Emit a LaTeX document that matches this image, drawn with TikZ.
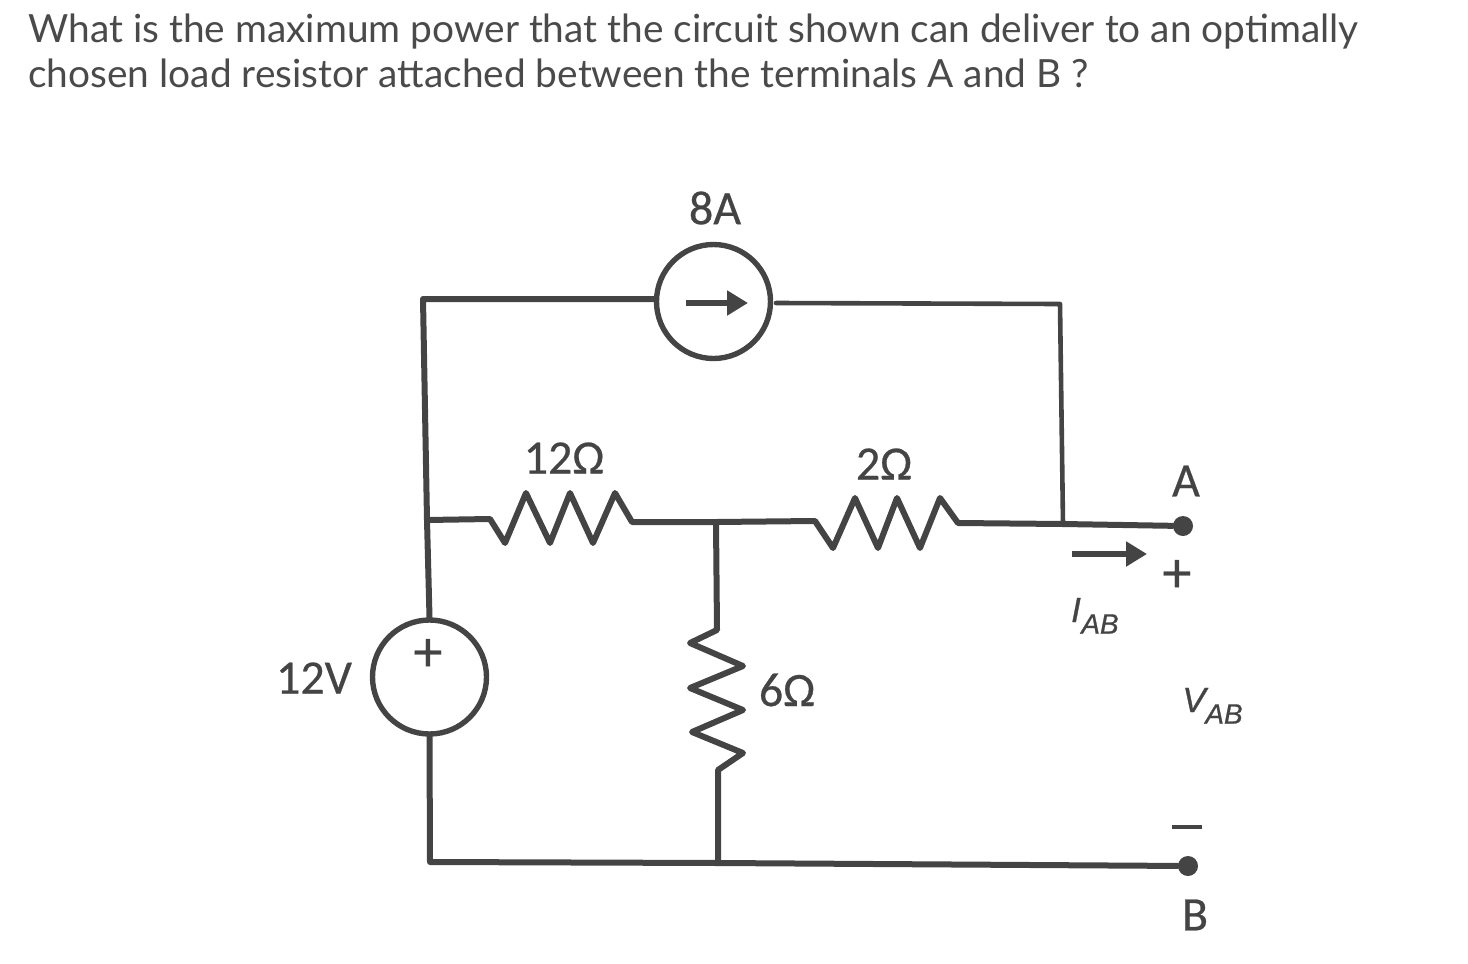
\documentclass[tikz,border=0pt]{standalone}
\usepackage{fontspec}
\setmainfont{Lato}
\newfontfamily\lblfont[FakeBold=0.5]{Carlito}
\newfontfamily\symfont[FakeBold=0.8]{Liberation Sans}
\usetikzlibrary{arrows.meta}
\definecolor{ink}{HTML}{444444}
\definecolor{titleink}{HTML}{4A4A4A}
\tikzset{
  wire/.style={draw=ink,line width=3pt,line join=round,line cap=round},
  thinwire/.style={draw=ink,line width=2.3pt,line join=round,line cap=round},
  srcring/.style={circle,draw=ink,line width=2.7pt,minimum size=57pt,inner sep=0pt},
  terminal/.style={circle,fill=ink,minimum size=10pt,inner sep=0pt},
  lbl/.style={text=ink,font=\lblfont\fontsize{24}{24}\selectfont,inner sep=0pt},
  pluslbl/.style={text=ink,font=\lblfont\fontsize{29}{29}\selectfont,inner sep=0pt},
  sym/.style={text=ink,font=\symfont\itshape\fontsize{17.5}{17.5}\selectfont,inner sep=0pt},
  subs/.style={text=ink,font=\symfont\itshape\fontsize{14}{14}\selectfont,inner sep=0pt},
  titleline/.style={text=titleink,font=\fontsize{19.42}{19.42}\selectfont,inner sep=0pt,anchor=base west},
  flow/.style={draw=ink,line width=3.4pt,-{Triangle[length=10.5pt,width=12pt]}},
}
\begin{document}
\begin{tikzpicture}[x=0.5pt,y=-0.5pt]
\useasboundingbox (0,0) rectangle (1468,964);
\node[titleline] (t1) at (28,42.5) {What is the maximum power that the circuit shown can deliver to an optimally};
\node[titleline] (t2) at (28,87.5) {chosen load resistor attached between the terminals A and B ?};

\node[srcring] (cs) at (713.5,301.5) {};
\node[srcring] (vs) at (429.5,677) {};
\node[terminal] (A) at (1183,526) {};
\node[terminal] (B) at (1188,866) {};
\coordinate (tl) at (423,299);
\coordinate (tr) at (1060,304);
\coordinate (nl) at (427,520);
\coordinate (nm) at (716,522);
\coordinate (nr) at (1063,524);
\coordinate (bl) at (430,862);
\coordinate (bm) at (718,863);

\draw[wire] (cs.west |- 0,299) -- (tl) -- (nl) -- (vs.north);
\draw[thinwire] (776,303) -- (tr) -- (nr);
\draw[wire] (nl) -- (490,519) -- (505,543) -- (526,493) -- (550,543) -- (570,493) -- (593,543) -- (615,493) -- (632,522) -- (nm);
\draw[wire] (nm) -- (815,521) -- (833,548) -- (855,498) -- (878,548) -- (897,498) -- (920,548) -- (940,498) -- (958,523) -- (nr) -- (A);
\draw[wire] (nm) -- (717,630) -- (690,643) -- (743,666) -- (690,688) -- (743,710) -- (692,732) -- (743,753) -- (718,770) -- (bm);
\draw[wire] (vs.south) -- (bl) -- (bm) -- (B);

\coordinate (csa) at (686,303);
\coordinate (csb) at (748,303);
\draw[flow] (csa) -- (csb);
\coordinate (iaa) at (1072,554);
\coordinate (iab) at (1147,554);
\draw[flow] (iaa) -- (iab);

\node[lbl] (l8a) at (715,208) {8A};
\node[lbl] (l12o) at (564,458) {12\char"03A9};
\node[lbl] (l2o) at (884,464) {2\char"03A9};
\node[lbl] (l6o) at (787,690) {6\char"03A9};
\node[lbl] (l12v) at (314,678) {12V};
\node[lbl] (la) at (1186,481) {A};
\node[lbl] (lb) at (1195,915) {B};
\node[pluslbl] (lvp) at (428,655) {+};
\node[pluslbl] (lap) at (1177,576) {+};
\node[lbl] (lam) at (1187,827) {\rule{15pt}{2.4pt}};
\node[sym] (li) at (1076,610) {I};
\node[subs] (lis) at (1100,624) {AB};
\node[sym] (lv) at (1194,700) {V};
\node[subs] (lvs) at (1224,714) {AB};
\end{tikzpicture}
\end{document}
